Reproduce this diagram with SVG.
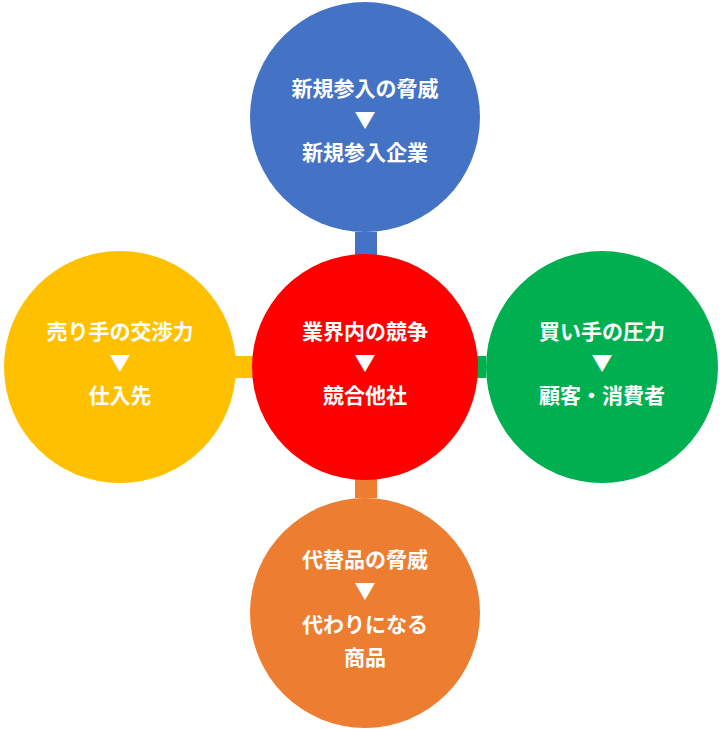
<svg xmlns="http://www.w3.org/2000/svg" width="720" height="729" viewBox="0 0 720 729">
<style>
text{font-family:"Noto Sans CJK JP","Noto Sans",sans-serif;font-weight:bold;font-size:21px;fill:#fff;text-anchor:middle}
</style>
<rect width="720" height="729" fill="#fff"/>
<g id="connectors">
<polygon points="355,232 377,232 377,260 388,260 366,284 344,260 355,260" fill="#4472C4"/>
<polygon points="232,356 260,356 260,346 284,367 260,388 260,378 232,378" fill="#FFC000"/>
<polygon points="486,356 474,356 474,346 450,367 474,388 474,378 486,378" fill="#00B050"/>
<polygon points="355,498 377,498 377,474 388,474 366,450 344,474 355,474" fill="#ED7D31"/>
</g>
<g id="top"><circle cx="365" cy="117" r="115" fill="#4472C4"/>
<text x="365" y="96">新規参入の脅威</text><text x="365" y="127">▼</text><text x="365" y="160">新規参入企業</text></g>
<g id="center"><circle cx="365" cy="367" r="113" fill="#FF0000"/>
<text x="365" y="339">業界内の競争</text><text x="365" y="370">▼</text><text x="365" y="403">競合他社</text></g>
<g id="left"><circle cx="120" cy="367" r="116" fill="#FFC000"/>
<text x="120" y="339">売り手の交渉力</text><text x="120" y="370">▼</text><text x="120" y="403">仕入先</text></g>
<g id="right"><circle cx="602" cy="367" r="116" fill="#00B050"/>
<text x="602" y="339">買い手の圧力</text><text x="602" y="370">▼</text><text x="602" y="403">顧客・消費者</text></g>
<g id="bottom"><circle cx="365" cy="613" r="115" fill="#ED7D31"/>
<text x="365" y="567">代替品の脅威</text><text x="365" y="598">▼</text><text x="365" y="632">代わりになる</text><text x="365" y="665">商品</text></g>
</svg>
